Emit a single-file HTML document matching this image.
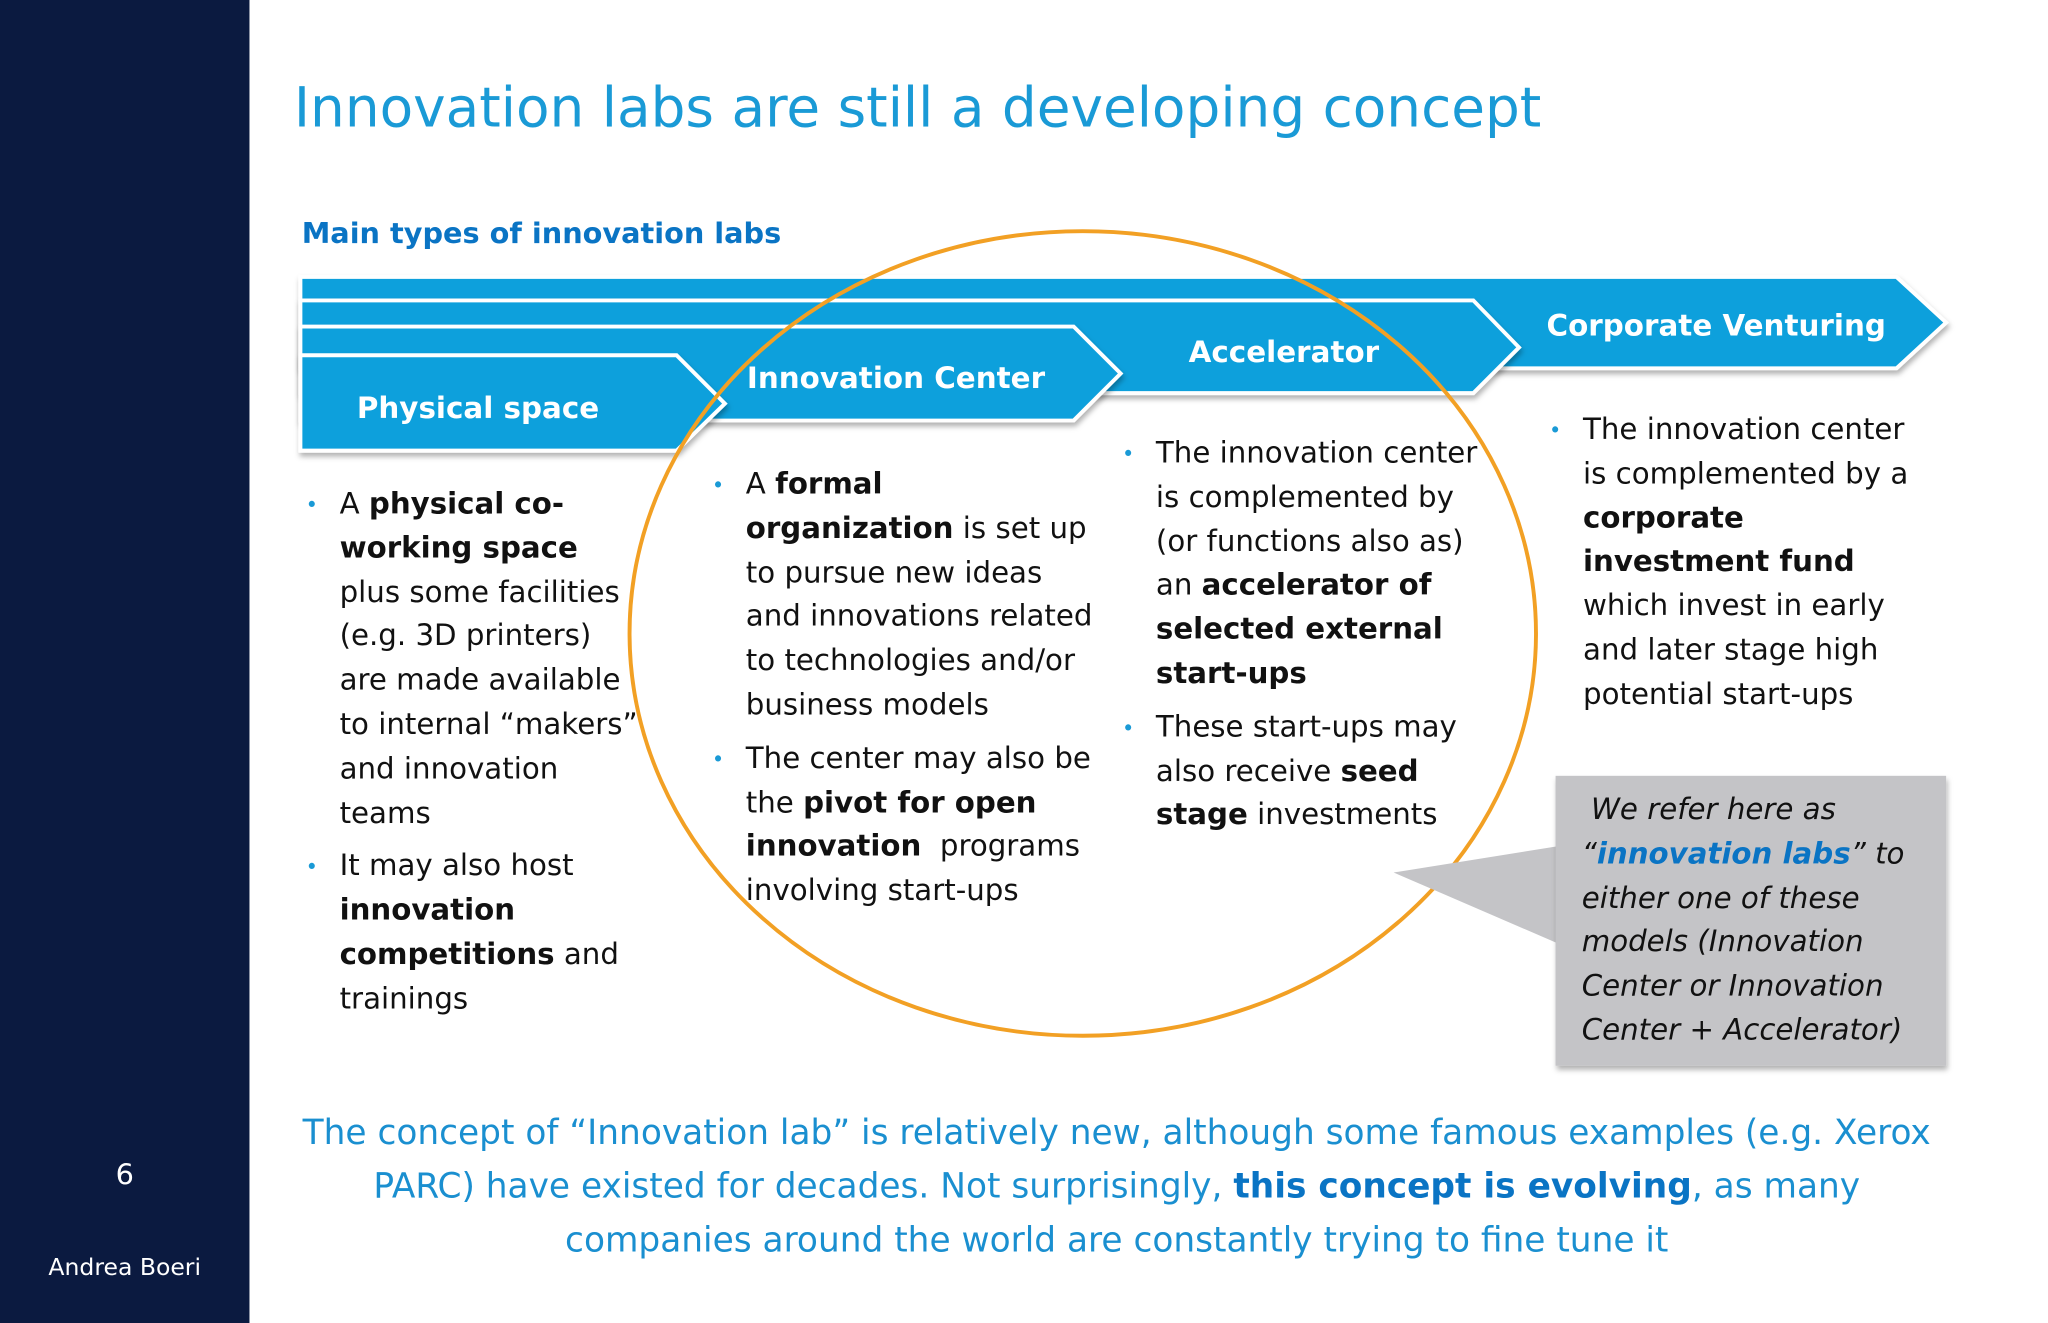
<!DOCTYPE html>
<html><head><meta charset="utf-8"><style>
html,body{margin:0;padding:0;background:#fff;}
#wrap{width:1568px;height:1013px;position:relative;transform:scale(1.30612);transform-origin:0 0;overflow:hidden;font-family:"DejaVu Sans","Liberation Sans",sans-serif;}
.abs{position:absolute;}
.body{font-size:22.4px;line-height:33.8px;color:#111;white-space:nowrap;}
ul{margin:0;padding:0;list-style:none;}
li{position:relative;padding-left:26px;margin-bottom:7px;}
li:before{content:"•";position:absolute;left:0;color:#1a9ad6;font-size:16px;}
b{font-weight:bold;}
</style></head><body>
<div id="wrap">
<div class="abs" style="left:0;top:0;width:191px;height:1013px;background:#0b1a40;"></div>
<div class="abs" style="left:0;top:888px;width:191px;text-align:center;color:#fff;font-size:22px;">6</div>
<div class="abs" style="left:0;top:960px;width:191px;text-align:center;color:#fff;font-size:18px;">Andrea Boeri</div>
<div class="abs" style="left:225px;top:58px;color:#1a9ad6;font-size:42px;white-space:nowrap;">Innovation labs are still a developing concept</div>
<div class="abs" style="left:231px;top:167px;color:#0a74c4;font-size:22px;font-weight:bold;white-space:nowrap;">Main types of innovation labs</div>
<svg class="abs" style="left:0;top:0" width="1568" height="1013">
<defs><filter id="sh" x="-5%" y="-5%" width="110%" height="130%"><feDropShadow dx="1" dy="3" stdDeviation="2" flood-color="#000" flood-opacity="0.3"/></filter></defs>
<polygon points="230,212 1452,212 1490,247 1452,282 230,282" fill="#0ea0dc" stroke="#fff" stroke-width="3" filter="url(#sh)"/>
<polygon points="230,230 1128,230 1163,266 1128,301 230,301" fill="#0ea0dc" stroke="#fff" stroke-width="3" filter="url(#sh)"/>
<polygon points="230,250 822,250 858,286 822,322 230,322" fill="#0ea0dc" stroke="#fff" stroke-width="3" filter="url(#sh)"/>
<polygon points="230,272 518,272 555,309 518,345 230,345" fill="#0ea0dc" stroke="#fff" stroke-width="3" filter="url(#sh)"/>
<text x="1314" y="257" text-anchor="middle" fill="#fff" font-size="22.5" font-weight="bold" font-family="DejaVu Sans,sans-serif">Corporate Venturing</text>
<text x="983" y="277" text-anchor="middle" fill="#fff" font-size="22.5" font-weight="bold" font-family="DejaVu Sans,sans-serif">Accelerator</text>
<text x="686" y="297" text-anchor="middle" fill="#fff" font-size="22.5" font-weight="bold" font-family="DejaVu Sans,sans-serif">Innovation Center</text>
<text x="366" y="320" text-anchor="middle" fill="#fff" font-size="22.5" font-weight="bold" font-family="DejaVu Sans,sans-serif">Physical space</text>
<ellipse cx="829" cy="485" rx="347" ry="308" fill="none" stroke="#f2a024" stroke-width="3"/>
<polygon points="1067,668 1192,648 1192,722" fill="#c4c4c7"/>
<rect x="1191" y="594" width="299" height="222" fill="#c4c4c7" filter="url(#sh)"/>
</svg>
<div class="abs body" style="left:234px;top:370px;">
<ul><li>A <b>physical co-</b><br><b>working space</b><br>plus some facilities<br>(e.g. 3D printers)<br>are made available<br>to internal “makers”<br>and innovation<br>teams</li>
<li>It may also host<br><b>innovation</b><br><b>competitions</b> and<br>trainings</li></ul></div>
<div class="abs body" style="left:545px;top:355px;">
<ul><li>A <b>formal</b><br><b>organization</b> is set up<br>to pursue new ideas<br>and innovations related<br>to technologies and/or<br>business models</li>
<li>The center may also be<br>the <b>pivot for open</b><br><b>innovation</b>&nbsp; programs<br>involving start-ups</li></ul></div>
<div class="abs body" style="left:859px;top:331px;">
<ul><li>The innovation center<br>is complemented by<br>(or functions also as)<br>an <b>accelerator of</b><br><b>selected external</b><br><b>start-ups</b></li>
<li>These start-ups may<br>also receive <b>seed</b><br><b>stage</b> investments</li></ul></div>
<div class="abs body" style="left:1186px;top:313px;">
<ul><li>The innovation center<br>is complemented by a<br><b>corporate</b><br><b>investment fund</b><br>which invest in early<br>and later stage high<br>potential start-ups</li></ul></div>
<div class="abs body" style="left:1211px;top:604px;font-style:italic;">&nbsp;We refer here as<br>“<b style="color:#0a74c4">innovation labs</b>” to<br>either one of these<br>models (Innovation<br>Center or Innovation<br>Center + Accelerator)</div>
<div class="abs" style="left:180px;top:848px;width:1350px;text-align:center;color:#1a8fd0;font-size:26.3px;line-height:41px;white-space:nowrap;">The concept of “Innovation lab” is relatively new, although some famous examples (e.g. Xerox<br>PARC) have existed for decades. Not surprisingly, <b style="color:#0a74c4">this concept is evolving</b>, as many<br>companies around the world are constantly trying to fine tune it</div>
</div>
</body></html>
